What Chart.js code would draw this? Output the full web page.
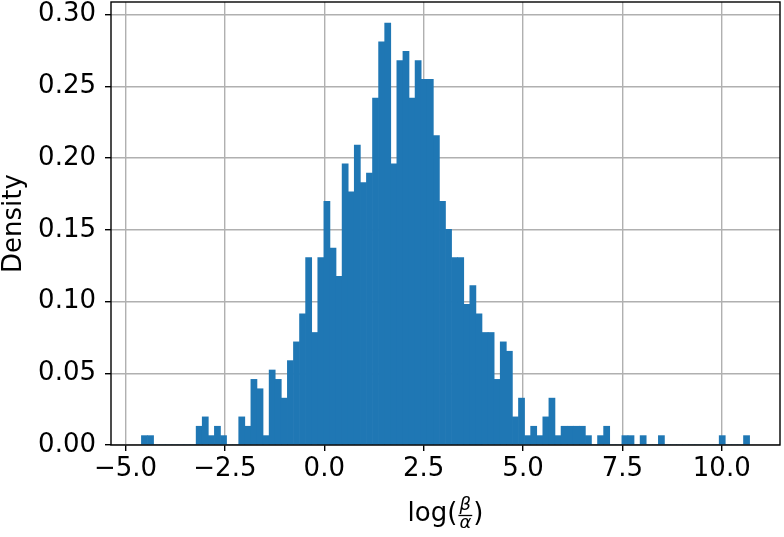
<!DOCTYPE html>
<html>
<head>
<meta charset="utf-8">
<script src="https://cdn.jsdelivr.net/npm/chart.js@4.4.0/dist/chart.umd.min.js"></script>
<style>
  html, body { margin: 0; padding: 0; background: #fff; }
  #wrap { width: 784px; height: 537px; }
</style>
</head>
<body>
<div id="wrap"><canvas id="chart" width="784" height="537"></canvas></div>
<script>
// histogram bins: 100 equal bins between binLo and binHi
var binLo = -4.6;
var binHi = 10.7;
var counts = [
    1, 1, 0, 0, 0, 0, 0, 0, 0, 2,
    3, 1, 2, 1, 0, 0, 3, 2, 7, 6,
    1, 8, 7, 5, 9, 11, 14, 20, 12, 20,
    26, 21, 18, 30, 27, 32, 28, 29, 37, 43,
    45, 30, 41, 42, 37, 41, 39, 39, 33, 26,
    23, 20, 20, 15, 17, 14, 12, 12, 7, 11,
    10, 3, 5, 1, 2, 1, 3, 5, 1, 2,
    2, 2, 2, 1, 0, 1, 2, 0, 0, 1,
    1, 0, 1, 0, 0, 1, 0, 0, 0, 0,
    0, 0, 0, 0, 0, 1, 0, 0, 0, 1
];
var xTicks = [-5, -2.5, 0, 2.5, 5, 7.5, 10];
var yTicks = [0, 0.05, 0.10, 0.15, 0.20, 0.25, 0.30];

var binW = (binHi - binLo) / counts.length;
var total = counts.reduce(function (a, b) { return a + b; }, 0);
var points = counts.map(function (c, i) {
    return {x: binLo + (i + 0.5) * binW, y: c / (total * binW)};
});
var xPad = 0.05 * (binHi - binLo);
var yMax = 1.05 * Math.max.apply(null, points.map(function (p) { return p.y; }));

var FONT = "DejaVu Sans";
var tickFont = {family: FONT, size: 26};

var frame = {
    id: "frame",
    afterDraw: function (chart) {
        var ctx = chart.ctx, a = chart.chartArea;
        ctx.save();
        ctx.strokeStyle = "#000";
        ctx.lineWidth = 1.4;
        ctx.strokeRect(a.left, a.top, a.right - a.left, a.bottom - a.top);

        // x axis label log(beta/alpha) with a stacked fraction
        var cx = (a.left + a.right) / 2, base = 521;
        ctx.fillStyle = "#000";
        ctx.textBaseline = "alphabetic";
        ctx.font = "26px '" + FONT + "'";
        var w1 = ctx.measureText("log(").width;
        var w3 = ctx.measureText(")").width;
        ctx.font = "italic 18px '" + FONT + "'";
        var wb = ctx.measureText("β").width, wa = ctx.measureText("α").width;
        var w2 = Math.max(wb, wa) + 4;
        var x0 = cx - (w1 + w2 + w3) / 2;
        ctx.font = "26px '" + FONT + "'";
        ctx.textAlign = "left";
        ctx.fillText("log(", x0, base);
        ctx.fillText(")", x0 + w1 + w2, base);
        ctx.font = "italic 18px '" + FONT + "'";
        ctx.textAlign = "center";
        var fx = x0 + w1 + w2 / 2;
        ctx.fillText("β", fx, 510);
        ctx.fillText("α", fx, 528);
        ctx.lineWidth = 1.3;
        ctx.beginPath();
        ctx.moveTo(x0 + w1 + 1, 515.5);
        ctx.lineTo(x0 + w1 + w2 - 1, 515.5);
        ctx.stroke();
        ctx.restore();
    }
};

function noPad(s) {
    s.paddingTop = 0; s.paddingBottom = 0; s.paddingLeft = 0; s.paddingRight = 0;
}

new Chart("chart", {
    type: "bar",
    data: {
        datasets: [{
            data: points,
            backgroundColor: "#1f77b4",
            borderWidth: 0,
            barPercentage: 1,
            categoryPercentage: 1
        }]
    },
    options: {
        responsive: false,
        animation: false,
        devicePixelRatio: 1,
        layout: {padding: {top: 2, right: 4, left: 0, bottom: 0}},
        plugins: {legend: {display: false}, tooltip: {enabled: false}},
        scales: {
            x: {
                type: "linear",
                offset: false,
                min: binLo - xPad,
                max: binHi + xPad,
                z: 1,
                afterBuildTicks: function (s) { s.ticks = xTicks.map(function (v) { return {value: v}; }); },
                afterFit: function (s) { s.height = 92; noPad(s); },
                grid: {offset: false, color: "#b0b0b0", lineWidth: 1.4, tickColor: "#000", tickLength: 6, tickWidth: 1.4},
                border: {display: false},
                ticks: {
                    font: tickFont, color: "#000", padding: 3, maxRotation: 0, autoSkip: false,
                    callback: function (v) { return (v < 0 ? "\u2212" : "") + Math.abs(v).toFixed(1); }
                }
            },
            y: {
                min: 0,
                max: yMax,
                z: 1,
                afterBuildTicks: function (s) { s.ticks = yTicks.map(function (v) { return {value: v}; }); },
                afterFit: function (s) { s.width = 111; noPad(s); },
                grid: {color: "#b0b0b0", lineWidth: 1.4, tickColor: "#000", tickLength: 6, tickWidth: 1.4},
                border: {display: false},
                ticks: {
                    font: tickFont, color: "#000", padding: 9, autoSkip: false,
                    callback: function (v) { return v.toFixed(2); }
                },
                title: {display: true, text: "Density", color: "#000", padding: 0,
                        font: {family: FONT, size: 26, lineHeight: 1.1}}
            }
        }
    },
    plugins: [frame]
});
</script>
</body>
</html>
